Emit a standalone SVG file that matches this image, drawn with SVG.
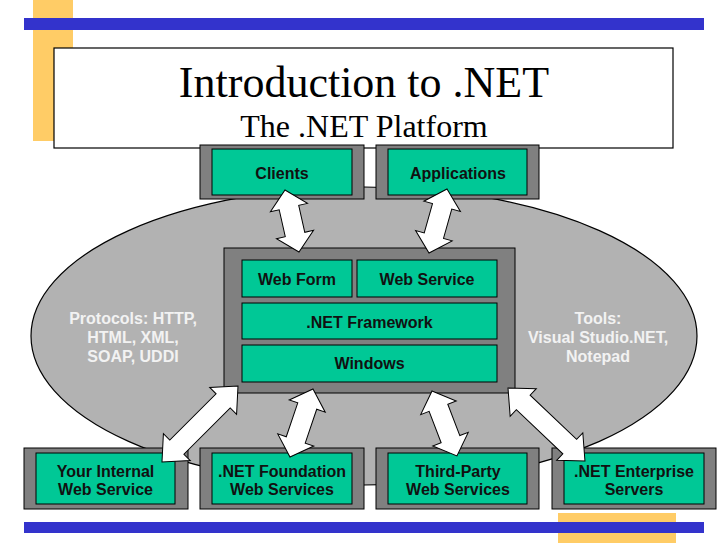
<svg xmlns="http://www.w3.org/2000/svg" width="728" height="546" viewBox="0 0 728 546">
<style>
.outer{fill:#808080;stroke:#000;stroke-width:1}
.inner{fill:#00c896;stroke:#000;stroke-width:1}
.bt{font-family:"Liberation Sans",Arial,sans-serif;font-weight:bold;font-size:16px;fill:#111;text-anchor:middle}
.lt{font-family:"Liberation Sans",Arial,sans-serif;font-weight:bold;font-size:16px;fill:#f2f2f2;text-anchor:middle}
.ttl{font-family:"Liberation Serif","Times New Roman",serif;fill:#000;text-anchor:middle}
.arr{fill:#fff;stroke:#000;stroke-width:1;stroke-linejoin:miter}
</style>
<rect width="728" height="546" fill="#fff"/>
<g id="decor">
<rect x="33" y="0" width="40" height="141" fill="#ffcc66"/>
<rect x="24" y="18" width="680" height="12" fill="#3333cc"/>
<rect x="558" y="513" width="118" height="30" fill="#ffcc66"/>
<rect x="24" y="522" width="680" height="11" fill="#3333cc"/>
</g>
<g id="title">
<rect x="54" y="48" width="619" height="100" fill="#fff" stroke="#000" stroke-width="1.2"/>
<text class="ttl" x="364" y="97" font-size="44">Introduction to .NET</text>
<text class="ttl" x="364" y="137" font-size="32">The .NET Platform</text>
</g>
<g id="platform">
<ellipse cx="364" cy="336" rx="333" ry="149" fill="#b2b2b2" stroke="#000" stroke-width="1.2"/>
<text class="lt" x="133" y="324">Protocols: HTTP,</text>
<text class="lt" x="133" y="343">HTML, XML,</text>
<text class="lt" x="133" y="362">SOAP, UDDI</text>
<text class="lt" x="598" y="324">Tools:</text>
<text class="lt" x="598" y="343">Visual Studio.NET,</text>
<text class="lt" x="598" y="362">Notepad</text>
</g>
<g id="clients">
<rect class="outer" x="200" y="145" width="164" height="54"/>
<rect class="inner" x="212" y="149" width="140" height="46"/>
<text class="bt" x="282" y="179">Clients</text>
</g>
<g id="applications">
<rect class="outer" x="376" y="145" width="163" height="54"/>
<rect class="inner" x="388" y="149" width="139" height="46"/>
<text class="bt" x="458" y="179">Applications</text>
</g>
<g id="stack">
<rect class="outer" x="224" y="248" width="291" height="145"/>
<g id="webform">
<rect class="inner" x="242" y="260" width="110" height="37"/>
<text class="bt" x="297" y="285">Web Form</text>
</g>
<g id="webservice">
<rect class="inner" x="357" y="260" width="140" height="37"/>
<text class="bt" x="427" y="285">Web Service</text>
</g>
<g id="framework">
<rect class="inner" x="242" y="303" width="255" height="36"/>
<text class="bt" x="369.5" y="328">.NET Framework</text>
</g>
<g id="windows">
<rect class="inner" x="242" y="345" width="255" height="37"/>
<text class="bt" x="369.5" y="369">Windows</text>
</g>
</g>
<g id="internal">
<rect class="outer" x="24" y="448" width="164" height="61"/>
<rect class="inner" x="36" y="453" width="139" height="51"/>
<text class="bt" x="105.5" y="477">Your Internal</text>
<text class="bt" x="105.5" y="495">Web Service</text>
</g>
<g id="foundation">
<rect class="outer" x="200" y="448" width="164" height="61"/>
<rect class="inner" x="212" y="453" width="140" height="51"/>
<text class="bt" x="282" y="477">.NET Foundation</text>
<text class="bt" x="282" y="495">Web Services</text>
</g>
<g id="thirdparty">
<rect class="outer" x="376" y="448" width="163" height="61"/>
<rect class="inner" x="388" y="453" width="139" height="51"/>
<text class="bt" x="458" y="477">Third-Party</text>
<text class="bt" x="458" y="495">Web Services</text>
</g>
<g id="enterprise">
<rect class="outer" x="552" y="448" width="164" height="61"/>
<rect class="inner" x="564" y="453" width="140" height="51"/>
<text class="bt" x="634" y="477">.NET Enterprise</text>
<text class="bt" x="634" y="495">Servers</text>
</g>
<g id="connectors">
<polygon class="arr" transform="translate(285,190) rotate(77.3)" points="0,0 18,-19 18,-10 45.6,-10 45.6,-19 63.6,0 45.6,19 45.6,10 18,10 18,19"/>
<polygon class="arr" transform="translate(447,189) rotate(105.7)" points="0,0 18,-19 18,-10 48.5,-10 48.5,-19 66.5,0 48.5,19 48.5,10 18,10 18,19"/>
<polygon class="arr" transform="translate(238,386) rotate(135)" points="0,0 21,-19 21,-10 86.5,-10 86.5,-19 107.5,0 86.5,19 86.5,10 21,10 21,19"/>
<polygon class="arr" transform="translate(313,389) rotate(108.7)" points="0,0 18,-19 18,-10 53.8,-10 53.8,-19 71.8,0 53.8,19 53.8,10 18,10 18,19"/>
<polygon class="arr" transform="translate(432,391) rotate(69)" points="0,0 18,-19 18,-10 51.6,-10 51.6,-19 69.6,0 51.6,19 51.6,10 18,10 18,19"/>
<polygon class="arr" transform="translate(508,388) rotate(43.5)" points="0,0 21,-19 21,-10 85.1,-10 85.1,-19 106.1,0 85.1,19 85.1,10 21,10 21,19"/>
</g>
</svg>
